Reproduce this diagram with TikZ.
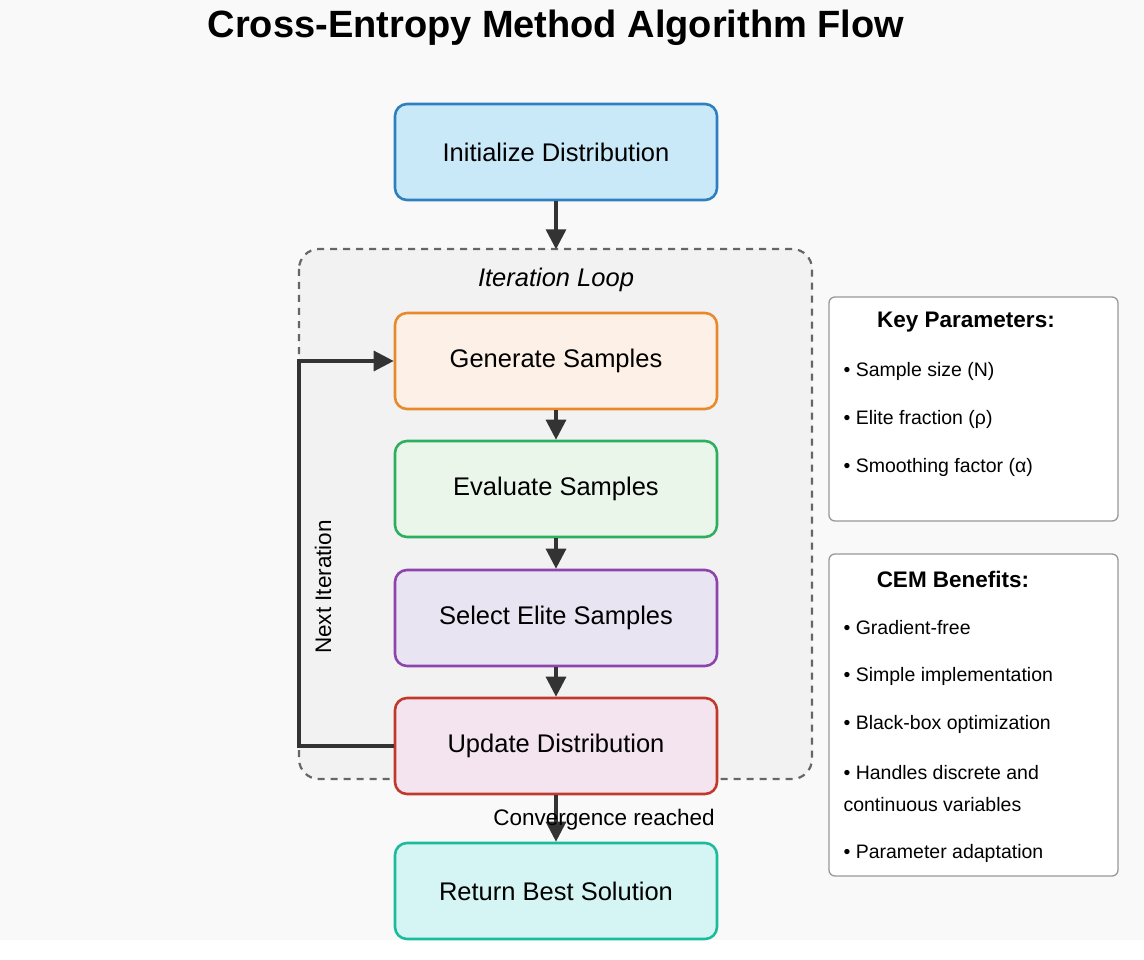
\documentclass[tikz,border=0pt]{standalone}
\usepackage{fontspec}
\setmainfont{Liberation Sans}
\usetikzlibrary{arrows.meta}
\definecolor{bg}{HTML}{F9F9F9}
\definecolor{ink}{HTML}{333333}
\definecolor{cA}{HTML}{2E7FC0}\definecolor{fA}{HTML}{C9E8F8}
\definecolor{cB}{HTML}{E8892D}\definecolor{fB}{HTML}{FDF0E6}
\definecolor{cC}{HTML}{2EAF5F}\definecolor{fC}{HTML}{EAF6EA}
\definecolor{cD}{HTML}{8E44AD}\definecolor{fD}{HTML}{E8E4F2}
\definecolor{cE}{HTML}{C0392B}\definecolor{fE}{HTML}{F3E4EF}
\definecolor{cF}{HTML}{1ABC9C}\definecolor{fF}{HTML}{D4F5F4}
\begin{document}
\begin{tikzpicture}[x=1pt,y=-1pt,
  stepbox/.style={draw, line width=2.6pt, rounded corners=12pt, minimum width=322pt, minimum height=96pt, font=\fontsize{25.5}{30}\selectfont, text=black},
  side/.style={draw=gray!80, line width=1.3pt, rounded corners=6pt, fill=white},
  arr/.style={draw=ink, line width=3.2pt, -{Triangle[length=20pt,width=20pt]}},
  bul/.style={anchor=west, font=\fontsize{19.5}{23}\selectfont},
  hd/.style={font=\bfseries\fontsize{22.5}{26}\selectfont}]
\useasboundingbox (0,0) rectangle (1144,960);
\fill[white] (0,0) rectangle (1144,960);
\fill[bg] (0,0) rectangle (1144,940);
\node[font=\bfseries\fontsize{38}{44}\selectfont] (title) at (556,28) {Cross-Entropy Method Algorithm Flow};
\draw[gray!80!black, line width=2.2pt, dash pattern=on 7pt off 6pt, rounded corners=20pt, fill=black!5] (299,249) rectangle (812,779);
\node[font=\itshape\fontsize{25.5}{30}\selectfont] (loop) at (556,280) {Iteration Loop};
\node[stepbox, draw=cA, fill=fA] (init) at (556,152) {Initialize Distribution};
\node[stepbox, draw=cB, fill=fB] (gen) at (556,361) {Generate Samples};
\node[stepbox, draw=cC, fill=fC] (eval) at (556,489) {Evaluate Samples};
\node[stepbox, draw=cD, fill=fD] (sel) at (556,618) {Select Elite Samples};
\node[stepbox, draw=cE, fill=fE] (upd) at (556,746) {Update Distribution};
\node[stepbox, draw=cF, fill=fF] (ret) at (556,891) {Return Best Solution};
\coordinate (c1) at (299,746);
\coordinate (c2) at (299,361);
\draw[arr] (init.south) -- ([yshift=-48pt]init.south);
\draw[arr] (gen) -- (eval);
\draw[arr] (eval) -- (sel);
\draw[arr] (sel) -- (upd);
\draw[arr] (upd) -- (ret);
\draw[arr] (upd.west) -- (c1) -- (c2) -- (gen.west);
\node[rotate=90, font=\fontsize{22.5}{26}\selectfont] (ni) at (323,587) {Next Iteration};
\node[font=\fontsize{22.5}{26}\selectfont, inner sep=1pt] (conv) at (604,820) {Convergence reached};
\draw[side] (829,297) rectangle (1118,521);
\node[hd] (kp) at (966,322) {Key Parameters:};
\node[bul] (k1) at (840,371) {• Sample size (N)};
\node[bul] (k2) at (840,419) {• Elite fraction (ρ)};
\node[bul] (k3) at (840,467) {• Smoothing factor (α)};
\draw[side] (829,554) rectangle (1118,876);
\node[hd] (cb) at (953,579) {CEM Benefits:};
\node[bul] (b1) at (840,628) {• Gradient-free};
\node[bul] (b2) at (840,676) {• Simple implementation};
\node[bul] (b3) at (840,724) {• Black-box optimization};
\node[bul] (b4) at (840,773) {• Handles discrete and};
\node[bul] (b5) at (840,805) {continuous variables};
\node[bul] (b6) at (840,853) {• Parameter adaptation};
\end{tikzpicture}
\end{document}
